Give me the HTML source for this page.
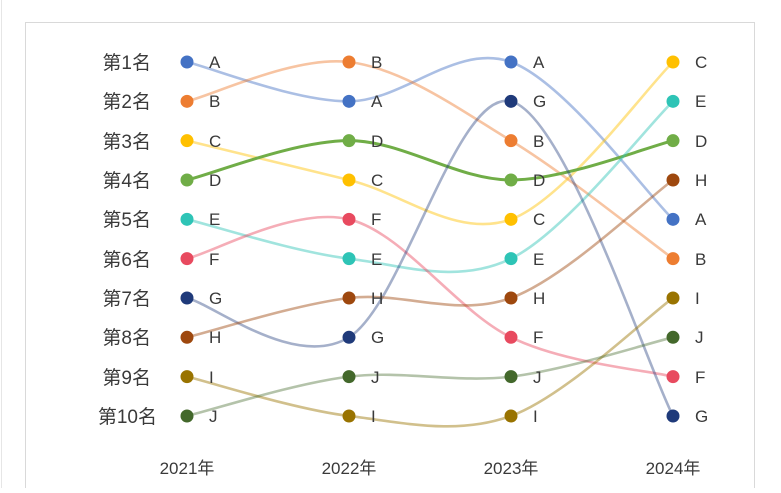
<!DOCTYPE html>
<html><head><meta charset="utf-8"><style>
body{margin:0;background:#fff;width:781px;height:488px;overflow:hidden;font-family:"Liberation Sans","Noto Sans CJK SC",sans-serif;}
svg text{font-family:"Liberation Sans","Noto Sans CJK SC",sans-serif;fill:#3a3a3a;}
</style></head><body>
<svg id="s" width="781" height="488" xmlns="http://www.w3.org/2000/svg">
<rect x="0" y="0" width="781" height="488" fill="#fff"/>
<line x1="1.5" y1="0" x2="1.5" y2="488" stroke="#e6e6e6" stroke-width="1"/>
<rect x="25.5" y="22.5" width="729" height="480" fill="#fff" stroke="#d9d9d9" stroke-width="1"/>
<g id="lines"></g>
<g id="marks"></g>
<g font-size="19" text-anchor="end">
<text x="151" y="69">第1名</text><text x="151" y="108">第2名</text><text x="151" y="148">第3名</text><text x="151" y="187">第4名</text><text x="151" y="226">第5名</text><text x="151" y="266">第6名</text><text x="151" y="305">第7名</text><text x="151" y="344">第8名</text><text x="151" y="384">第9名</text><text x="157" y="423">第10名</text>
</g>
<g font-size="17" text-anchor="middle">
<text x="187" y="474">2021年</text><text x="349" y="474">2022年</text><text x="511" y="474">2023年</text><text x="673" y="474">2024年</text>
</g>
<g font-size="17">
<text x="209" y="68">A</text><text x="209" y="107">B</text><text x="209" y="147">C</text><text x="209" y="186">D</text><text x="209" y="225">E</text><text x="209" y="265">F</text><text x="209" y="304">G</text><text x="209" y="343">H</text><text x="209" y="383">I</text><text x="209" y="422">J</text>
<text x="371" y="68">B</text><text x="371" y="107">A</text><text x="371" y="147">D</text><text x="371" y="186">C</text><text x="371" y="225">F</text><text x="371" y="265">E</text><text x="371" y="304">H</text><text x="371" y="343">G</text><text x="371" y="383">J</text><text x="371" y="422">I</text>
<text x="533" y="68">A</text><text x="533" y="107">G</text><text x="533" y="147">B</text><text x="533" y="186">D</text><text x="533" y="225">C</text><text x="533" y="265">E</text><text x="533" y="304">H</text><text x="533" y="343">F</text><text x="533" y="383">J</text><text x="533" y="422">I</text>
<text x="695" y="68">C</text><text x="695" y="107">E</text><text x="695" y="147">D</text><text x="695" y="186">H</text><text x="695" y="225">A</text><text x="695" y="265">B</text><text x="695" y="304">I</text><text x="695" y="343">J</text><text x="695" y="383">F</text><text x="695" y="422">G</text>
</g>
</svg>
<script>
var X=[187,349,511,673];
function Y(r){return 62+(r-1)*39.33;}
var S=[
["#4472C4",[1,2,1,5],.45],["#ED7D31",[2,1,3,6],.45],["#FFC000",[3,4,5,1],.45],["#70AD47",[4,3,4,3],1],
["#2EC4B6",[5,6,6,2],.45],["#E84A5F",[6,5,8,9],.45],["#1F3A7A",[7,8,2,10],.4],["#9E480E",[8,7,7,4],.45],
["#997300",[9,10,10,7],.45],["#43682B",[10,9,9,8],.4]];
var L=document.getElementById('lines'),M=document.getElementById('marks'),ns="http://www.w3.org/2000/svg";
S.forEach(function(s){
 var p=X.map(function(x,i){return [x,Y(s[1][i])];});
 var d="M"+p[0][0]+","+p[0][1];
 for(var i=0;i<3;i++){
  var p0=p[i-1]||p[i],p1=p[i],p2=p[i+1],p3=p[i+2]||p[i+1];
  var c1=[p1[0]+(p2[0]-p0[0])/6,p1[1]+(p2[1]-p0[1])/6];
  var c2=[p2[0]-(p3[0]-p1[0])/6,p2[1]-(p3[1]-p1[1])/6];
  d+=" C"+c1+" "+c2+" "+p2;
 }
 var e=document.createElementNS(ns,'path');e.setAttribute('d',d);e.setAttribute('fill','none');
 e.setAttribute('stroke',s[0]);e.setAttribute('stroke-width',s[2]==1?3:2.6);e.setAttribute('stroke-opacity',s[2]);L.appendChild(e);
 p.forEach(function(q){var c=document.createElementNS(ns,'circle');c.setAttribute('cx',q[0]);c.setAttribute('cy',q[1]);c.setAttribute('r',6.5);c.setAttribute('fill',s[0]);M.appendChild(c);});
});
</script>
</body></html>
